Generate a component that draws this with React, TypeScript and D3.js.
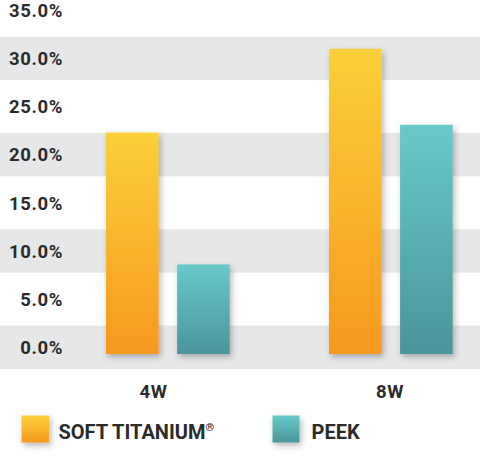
import React from "react";
import * as d3 from "d3";

const categories = ["4W", "8W"];
const seriesNames = ["SOFT TITANIUM", "PEEK"];
const softTitanium = [23.0, 31.7];
const peek = [9.3, 23.8];
const yTicks = [0, 5, 10, 15, 20, 25, 30, 35];
const bandTicks = [0, 10, 20, 30];

const W = 480;
const H = 458;

export default function App() {
  const y = d3.scaleLinear().domain([0, 35]).range([354, 17]);
  const step = y(0) - y(5);
  const x0 = d3.scaleBand().domain(categories).range([106, 452.7]).paddingInner(0.445).paddingOuter(0);
  const x1 = d3.scaleBand().domain(seriesNames).range([0, x0.bandwidth()]).paddingInner(0.26).paddingOuter(0);
  const labelX = d3.scalePoint().domain(categories).range([153.5, 390]);
  const series = [softTitanium, peek];
  const grads = ["gOrange", "gTeal"];
  const font = "Roboto, 'Noto Sans', sans-serif";

  return (
    <div style={{ position: "absolute", left: 0, top: 0 }}>
      <svg width={W} height={H} style={{ display: "block" }}>
        <defs>
          <linearGradient id="gOrange" x1="0" y1="0" x2="0" y2="1">
            <stop offset="0%" stopColor="#FBD03A" />
            <stop offset="100%" stopColor="#F7981F" />
          </linearGradient>
          <linearGradient id="gTeal" x1="0" y1="0" x2="0" y2="1">
            <stop offset="0%" stopColor="#68C9C9" />
            <stop offset="100%" stopColor="#4A9599" />
          </linearGradient>
          <filter id="shadow" x="-30%" y="-30%" width="160%" height="160%">
            <feDropShadow dx="2" dy="3" stdDeviation="3" floodColor="#000" floodOpacity="0.28" />
          </filter>
        </defs>
        <rect x={0} y={0} width={W} height={H} fill="#fff" />
        {bandTicks.map((v) => (
          <rect key={v} x={0} width={W} y={y(v) - 0.59 * step} height={0.9 * step} fill="#E6E7E9" />
        ))}
        {yTicks.map((v) => (
          <text
            key={v}
            x={63}
            y={y(v)}
            textAnchor="end"
            fontFamily={font}
            fontWeight={700}
            fontSize={18.5}
            letterSpacing={0.6}
            fill="#2b2b2b"
          >
            {v.toFixed(1) + "%"}
          </text>
        ))}
        {categories.map((c, i) => (
          <g key={c} transform={`translate(${x0(c)},0)`}>
            {seriesNames.map((s, j) => (
              <rect
                key={s}
                x={x1(s)}
                width={x1.bandwidth()}
                y={y(series[j][i])}
                height={y(0) - y(series[j][i])}
                fill={`url(#${grads[j]})`}
                filter="url(#shadow)"
              />
            ))}
          </g>
        ))}
        {categories.map((c) => (
          <text
            key={c}
            x={labelX(c)}
            y={397.5}
            textAnchor="middle"
            fontFamily={font}
            fontWeight={700}
            fontSize={18.5}
            letterSpacing={0.5}
            fill="#2b2b2b"
          >
            {c}
          </text>
        ))}
        <g>
          <rect x={21.5} y={415.5} width={27.5} height={27} fill="url(#gOrange)" filter="url(#shadow)" />
          <text x={58.5} y={438.5} fontFamily={font} fontWeight={700} fontSize={20} fill="#2b2b2b">
            {seriesNames[0]}
            <tspan fontSize={11} dy={-8}>®</tspan>
          </text>
          <rect x={272.5} y={415.5} width={27} height={27} fill="url(#gTeal)" filter="url(#shadow)" />
          <text x={311.5} y={438.5} fontFamily={font} fontWeight={700} fontSize={20} fill="#2b2b2b">
            {seriesNames[1]}
          </text>
        </g>
      </svg>
    </div>
  );
}
